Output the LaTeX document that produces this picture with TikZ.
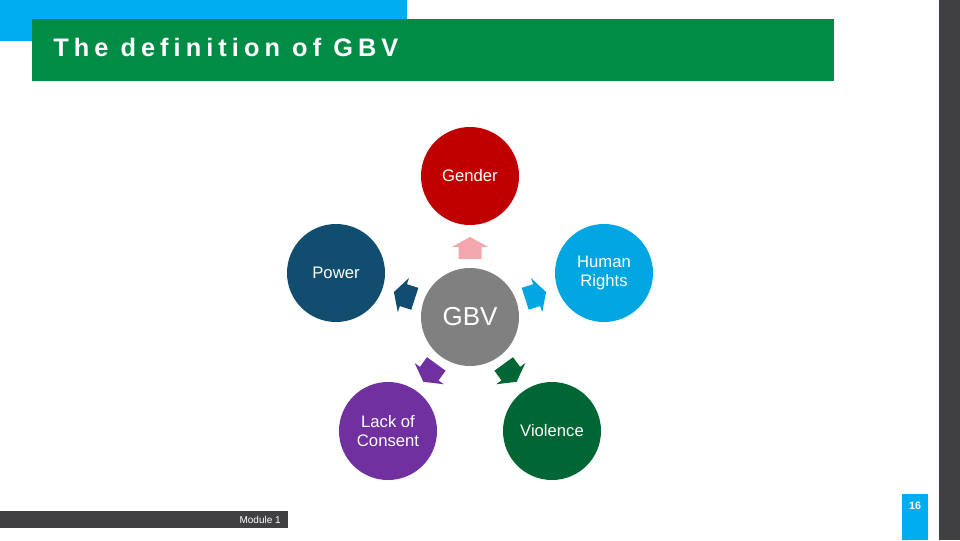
\documentclass[tikz,border=0pt]{standalone}
\usepackage{fontspec}
\setmainfont{Liberation Sans}
\usetikzlibrary{calc}
\definecolor{TopBlue}{HTML}{00AEEF}
\definecolor{TitleGreen}{HTML}{008C45}
\definecolor{BarGrey}{HTML}{404042}
\definecolor{CGender}{HTML}{C00000}
\definecolor{CGenderLight}{HTML}{F4A6AE}
\definecolor{CPower}{HTML}{104D6E}
\definecolor{CRights}{HTML}{00A6E2}
\definecolor{CConsent}{HTML}{7030A0}
\definecolor{CViolence}{HTML}{006633}
\definecolor{CGbv}{HTML}{808080}

\tikzset{
  topic/.style={circle,minimum size=73.5pt,inner sep=0pt,text=white,
    font=\fontsize{12.5}{14}\selectfont,align=center},
  ray/.pic={
    \fill (-11,-11.5) -- (1,-11.5) -- (1,-18) -- (11,0) -- (1,18)
      -- (1,11.5) -- (-11,11.5) -- cycle;
  }
}

\begin{document}
\begin{tikzpicture}[x=0.75pt,y=0.75pt]
    \useasboundingbox (0,0) rectangle (960,540);
    % header and footer bars
    \fill[TopBlue] (0,499) rectangle (407,540);
    \fill[TitleGreen] (32,459) rectangle (834,521);
    \fill[BarGrey] (939,0) rectangle (960,540);
    \fill[TopBlue] (902,0) rectangle (928,46);
    \fill[BarGrey] (0,12) rectangle (288,29);
    \node[anchor=base west,inner sep=0pt,text=white,
      font=\fontsize{19}{22}\selectfont\bfseries\addfontfeature{LetterSpace=20}]
      (title) at (53,483) {The definition of GBV};
    \node[text=white,font=\fontsize{8}{9}\selectfont\bfseries] (page) at (915,34) {16};
    \node[anchor=east,inner sep=0pt,text=white,font=\fontsize{7.5}{9}\selectfont]
      (module) at (281,20.5) {Module 1};
    % circles
    \node[topic,fill=CGbv,font=\fontsize{19.5}{22}\selectfont] (gbv) at (470,223) {GBV};
    \node[topic,fill=CGender] (gender) at (470,364) {Gender};
    \node[topic,fill=CPower] (power) at (336,267) {Power};
    \node[topic,fill=CRights] (rights) at (604,267) {Human\\Rights};
    \node[topic,fill=CConsent] (consent) at (388,109) {Lack of\\Consent};
    \node[topic,fill=CViolence] (violence) at (552,109) {Violence};
    % block arrows
    \foreach \t/\ang/\col in {gender/90/CGenderLight,power/162/CPower,
      rights/18/CRights,consent/234/CConsent,violence/306/CViolence}
    {
        \coordinate (arr-\t) at ($(gbv)!0.49!(\t)$);
        \pic[fill=\col,rotate=\ang] at (arr-\t) {ray};
    }
\end{tikzpicture}
\end{document}
